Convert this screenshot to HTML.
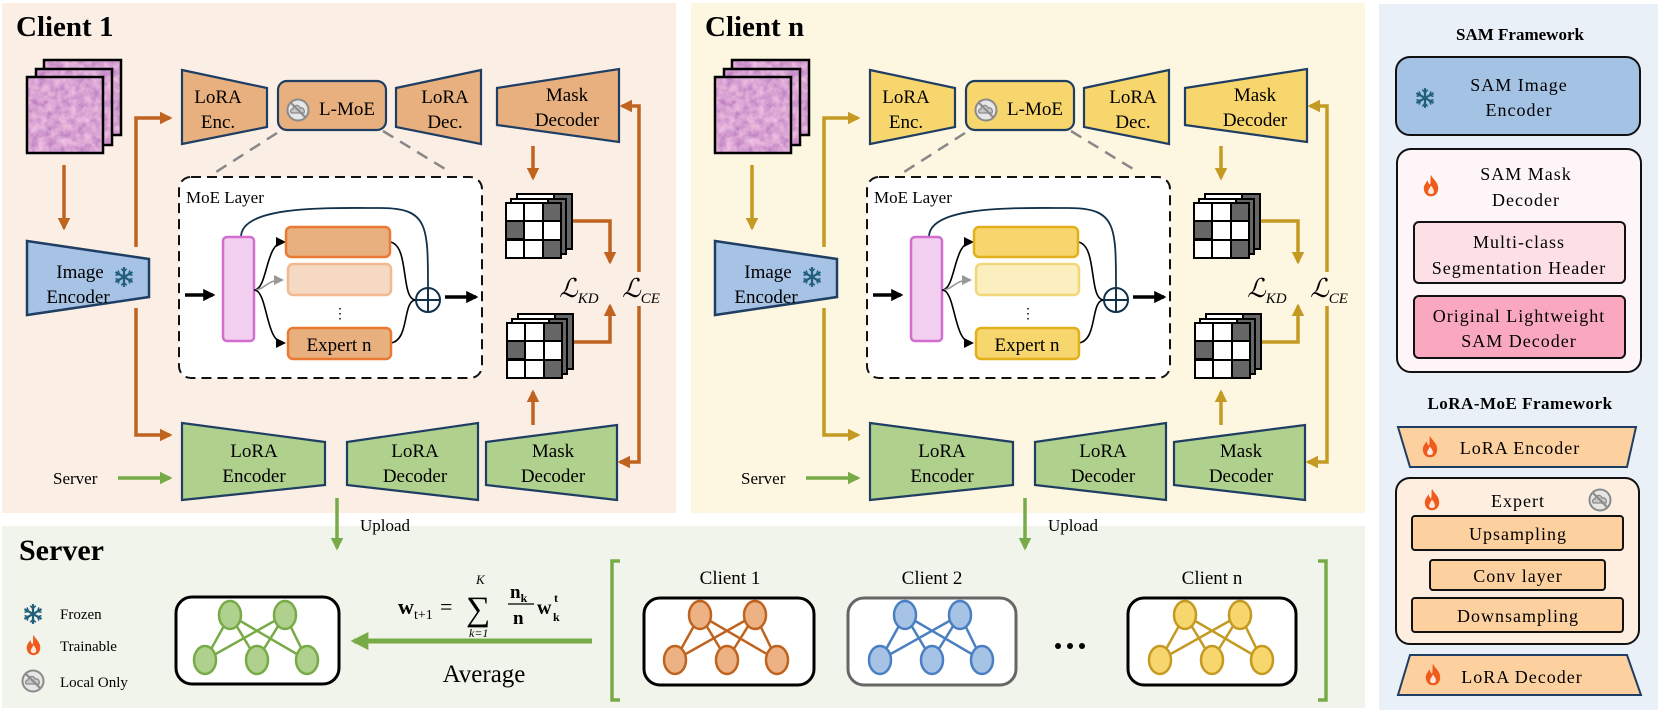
<!DOCTYPE html>
<html><head><meta charset="utf-8"><style>
html,body{margin:0;padding:0;background:#fff}
svg{display:block;font-family:"Liberation Serif",serif}
</style></head><body>
<svg width="1665" height="714" viewBox="0 0 1665 714" xmlns="http://www.w3.org/2000/svg">
<defs>
<marker id="mo" viewBox="0 0 10 10" refX="8" refY="5" markerWidth="3.6" markerHeight="3.6" orient="auto"><path d="M0,0 L10,5 L0,10 z" fill="#c0631f"/></marker>
<marker id="my" viewBox="0 0 10 10" refX="8" refY="5" markerWidth="3.6" markerHeight="3.6" orient="auto"><path d="M0,0 L10,5 L0,10 z" fill="#c49a22"/></marker>
<marker id="mgr" viewBox="0 0 10 10" refX="8" refY="5" markerWidth="3.6" markerHeight="3.6" orient="auto"><path d="M0,0 L10,5 L0,10 z" fill="#78ab47"/></marker>
<marker id="mb" viewBox="0 0 10 10" refX="8" refY="5" markerWidth="10" markerHeight="10" markerUnits="userSpaceOnUse" orient="auto"><path d="M0,0 L10,5 L0,10 z" fill="#000"/></marker>
<marker id="mgy" viewBox="0 0 10 10" refX="8" refY="5" markerWidth="10" markerHeight="10" markerUnits="userSpaceOnUse" orient="auto"><path d="M0,0 L10,5 L0,10 z" fill="#999"/></marker>
<marker id="mbb" viewBox="0 0 10 10" refX="8" refY="5" markerWidth="3.5" markerHeight="3.5" orient="auto"><path d="M0,0 L10,5 L0,10 z" fill="#000"/></marker>
<filter id="tex" x="0" y="0" width="1" height="1"><feTurbulence type="fractalNoise" baseFrequency="0.13" numOctaves="3" seed="4"/><feColorMatrix type="matrix" values="0.55 0 0 0 0.42  0.5 0 0 0 0.12  0.35 0 0 0 0.48  0 0 0 0 1"/></filter>
<symbol id="snow" viewBox="-10 -10 20 20"><g stroke="#1f5f7a" stroke-width="2" fill="none"><line x1="0" y1="-9" x2="0" y2="9"/><line x1="-7.8" y1="-4.5" x2="7.8" y2="4.5"/><line x1="-7.8" y1="4.5" x2="7.8" y2="-4.5"/></g><g stroke="#1f5f7a" stroke-width="1.4" fill="none"><path d="M-2.5,-7.5 L0,-5 L2.5,-7.5 M-2.5,7.5 L0,5 L2.5,7.5 M-7.7,-1.5 L-4.3,-2.5 L-5.3,-6 M7.7,1.5 L4.3,2.5 L5.3,6 M-7.7,1.5 L-4.3,2.5 L-5.3,6 M7.7,-1.5 L4.3,-2.5 L5.3,-6"/></g></symbol>
<symbol id="flame" viewBox="0 0 20 26"><path d="M10,1 C12,6 18,9 18,16 C18,22 14,25 10,25 C5,25 2,21 2,16 C2,12 5,10 6,7 C7,10 8,12 9,12 C10,9 9,5 10,1 Z" fill="#f05a1a"/><path d="M10,13 C12,16 14,18 13,21 C12,23 8,23 7,21 C6,19 8,17 10,13 Z" fill="#fff" opacity=".85"/></symbol>
<symbol id="local" viewBox="-12 -12 24 24"><circle r="10.5" fill="#e6e6e6" stroke="#8a8a8a" stroke-width="2"/><path d="M-6,3 C-8,3 -8,-1 -5,-1 C-5,-5 1,-6 2,-2 C5,-3 7,0 6,3 Z" fill="#c8c8c8" stroke="#8a8a8a" stroke-width="1.3"/><line x1="-7.5" y1="-7.5" x2="7.5" y2="7.5" stroke="#8a8a8a" stroke-width="2"/></symbol>
</defs>

<rect x="2" y="3" width="674" height="510" fill="#fbeee5"/>
<rect x="691" y="3" width="674" height="510" fill="#fdf6e1"/>
<rect x="2" y="526" width="1363" height="182" fill="#f1f4ea"/>
<rect x="1379" y="4" width="279" height="706" fill="#e9f0f8"/>

<text x="16" y="36" font-size="29" font-weight="bold">Client 1</text>
<text x="705" y="36" font-size="29" font-weight="bold">Client n</text>

<!-- CLIENT 1 -->
<g>
<g stroke="#000" stroke-width="2.5">
<rect x="44" y="60" width="77" height="75" fill="#c98cd0" filter="url(#tex)"/><rect x="44" y="60" width="77" height="75" fill="none"/>
<rect x="36" y="69" width="76" height="76" fill="#c98cd0" filter="url(#tex)"/><rect x="36" y="69" width="76" height="76" fill="none"/>
<rect x="27" y="77" width="76" height="76" fill="#c98cd0" filter="url(#tex)"/><rect x="27" y="77" width="76" height="76" fill="none"/>
</g>
<g stroke="#c0631f" stroke-width="3.5" fill="none">
<line x1="64" y1="165" x2="64" y2="228" marker-end="url(#mo)"/>
<polyline points="136,247 136,118 170,118" marker-end="url(#mo)"/>
<polyline points="136,308 136,435 170,435" marker-end="url(#mo)"/>
<line x1="533" y1="146" x2="533" y2="178" marker-end="url(#mo)"/>
<line x1="533" y1="425" x2="533" y2="392" marker-end="url(#mo)"/>
<polyline points="572,221 610,221 610,262" marker-end="url(#mo)"/>
<polyline points="572,342 610,342 610,306" marker-end="url(#mo)"/>
<polyline points="639,272 639,106 622,106" marker-end="url(#mo)"/>
<polyline points="639,306 639,462 620,462" marker-end="url(#mo)"/>
</g>
<polygon points="27,241 149,259 149,297 27,315" fill="#a6c3e6" stroke="#1f3e63" stroke-width="2.5"/>
<text x="80" y="278" font-size="19" text-anchor="middle">Image</text>
<text x="78" y="303" font-size="19" text-anchor="middle">Encoder</text>
<use href="#snow" x="113" y="266" width="22" height="22"/>
<g fill="#e8b07f" stroke="#1f3e63" stroke-width="2.2">
<polygon points="182,70 267,88 267,127 182,144"/>
<polygon points="396,88 481,70 481,144 396,127"/>
<polygon points="497,88 619,69 619,142 497,125"/>
<rect x="278" y="81" width="108" height="49" rx="9"/>
</g>
<g font-size="19" text-anchor="middle">
<text x="218" y="103">LoRA</text><text x="218" y="128">Enc.</text>
<text x="445" y="103">LoRA</text><text x="445" y="128">Dec.</text>
<text x="567" y="101">Mask</text><text x="567" y="126">Decoder</text>
</g>
<use href="#local" x="286" y="98" width="24" height="24"/>
<text x="347" y="115" font-size="19" text-anchor="middle">L-MoE</text>
<g stroke="#888" stroke-width="2.5" stroke-dasharray="12,8"><line x1="277" y1="133" x2="216" y2="172"/><line x1="383" y1="131" x2="450" y2="172"/></g>
<rect x="179" y="177" width="303" height="201" rx="12" fill="#fff" stroke="#111" stroke-width="2" stroke-dasharray="10,6"/>
<text x="186" y="203" font-size="17">MoE Layer</text>
<path d="M241,237 C241,205 330,208 380,208 C428,208 428,225 428,288" fill="none" stroke="#12314a" stroke-width="1.8"/>
<rect x="223" y="237" width="31" height="104" rx="4" fill="#f2cfee" stroke="#d36ed0" stroke-width="2.5"/>
<g fill="none" stroke-width="1.6">
<path d="M254,290 C268,290 265,242 284,242" stroke="#000" marker-end="url(#mb)"/>
<path d="M254,290 C265,290 266,280 282,280" stroke="#999" marker-end="url(#mgy)"/>
<path d="M254,290 C268,290 265,343 284,343" stroke="#000" marker-end="url(#mb)"/>
<path d="M390,242 C410,245 400,300 416,300" stroke="#000"/>
<path d="M391,343 C410,340 402,300 416,300" stroke="#000"/>
</g>
<rect x="286" y="227" width="104" height="30" rx="5" fill="#e8b07f" stroke="#ea7a33" stroke-width="2.5"/>
<rect x="288" y="264" width="103" height="31" rx="5" fill="#f5d9c2" stroke="#f2b890" stroke-width="2.5"/>
<rect x="288" y="328" width="103" height="31" rx="5" fill="#e8b07f" stroke="#ea7a33" stroke-width="2.5"/>
<text x="339" y="351" font-size="19" text-anchor="middle">Expert n</text>
<text x="340" y="318" font-size="14" text-anchor="middle">⋮</text>
<circle cx="428" cy="300" r="12" fill="#fff" stroke="#12314a" stroke-width="2"/>
<path d="M416,300 H440 M428,288 V312" stroke="#12314a" stroke-width="2"/>
<line x1="185" y1="295" x2="213" y2="295" stroke="#000" stroke-width="3.5" marker-end="url(#mbb)"/>
<line x1="445" y1="297" x2="476" y2="297" stroke="#000" stroke-width="3.5" marker-end="url(#mbb)"/>
<g stroke="#000" stroke-width="2">
<g transform="translate(506,203)">
<rect x="11" y="-9" width="55" height="55" fill="#fff"/><rect x="48" y="-9" width="18" height="55" fill="#666"/>
<rect x="5" y="-4" width="55" height="55" fill="#fff"/><rect x="42" y="-4" width="18" height="55" fill="#666"/>
<rect x="0" y="0" width="55" height="55" fill="#fff"/>
<rect x="37" y="0" width="18" height="18" fill="#666"/><rect x="0" y="18" width="18" height="18" fill="#666"/><rect x="37" y="37" width="18" height="18" fill="#666"/>
<path d="M18,0 V55 M37,0 V55 M0,18 H55 M0,37 H55" fill="none"/>
</g>
<g transform="translate(507,323)">
<rect x="11" y="-9" width="55" height="55" fill="#fff"/><rect x="48" y="-9" width="18" height="55" fill="#666"/>
<rect x="5" y="-4" width="55" height="55" fill="#fff"/><rect x="42" y="-4" width="18" height="55" fill="#666"/>
<rect x="0" y="0" width="55" height="55" fill="#fff"/>
<rect x="37" y="0" width="18" height="18" fill="#666"/><rect x="0" y="18" width="18" height="18" fill="#666"/><rect x="37" y="37" width="18" height="18" fill="#666"/>
<path d="M18,0 V55 M37,0 V55 M0,18 H55 M0,37 H55" fill="none"/>
</g>
</g>
<text x="559" y="297" font-size="26" font-style="italic">ℒ<tspan font-size="15" dy="6">KD</tspan></text>
<text x="622" y="297" font-size="26" font-style="italic">ℒ<tspan font-size="15" dy="6">CE</tspan></text>
<g fill="#b0d08e" stroke="#1f3e63" stroke-width="2.2">
<polygon points="182,423 325,442 325,485 182,500"/>
<polygon points="347,442 478,423 478,500 347,485"/>
<polygon points="486,442 617,425 617,500 486,485"/>
</g>
<g font-size="19" text-anchor="middle">
<text x="254" y="457">LoRA</text><text x="254" y="482">Encoder</text>
<text x="415" y="457">LoRA</text><text x="415" y="482">Decoder</text>
<text x="553" y="457">Mask</text><text x="553" y="482">Decoder</text>
</g>
<text x="53" y="484" font-size="17">Server</text>
<line x1="118" y1="478" x2="170" y2="478" stroke="#78ab47" stroke-width="3.5" marker-end="url(#mgr)"/>
<line x1="337" y1="498" x2="337" y2="548" stroke="#78ab47" stroke-width="3.5" marker-end="url(#mgr)"/>
<text x="360" y="531" font-size="17">Upload</text>
</g>

<!-- CLIENT N -->
<g transform="translate(688,0)">
<g stroke="#000" stroke-width="2.5">
<rect x="44" y="60" width="77" height="75" fill="#c98cd0" filter="url(#tex)"/><rect x="44" y="60" width="77" height="75" fill="none"/>
<rect x="36" y="69" width="76" height="76" fill="#c98cd0" filter="url(#tex)"/><rect x="36" y="69" width="76" height="76" fill="none"/>
<rect x="27" y="77" width="76" height="76" fill="#c98cd0" filter="url(#tex)"/><rect x="27" y="77" width="76" height="76" fill="none"/>
</g>
<g stroke="#c49a22" stroke-width="3.5" fill="none">
<line x1="64" y1="165" x2="64" y2="228" marker-end="url(#my)"/>
<polyline points="136,247 136,118 170,118" marker-end="url(#my)"/>
<polyline points="136,308 136,435 170,435" marker-end="url(#my)"/>
<line x1="533" y1="146" x2="533" y2="178" marker-end="url(#my)"/>
<line x1="533" y1="425" x2="533" y2="392" marker-end="url(#my)"/>
<polyline points="572,221 610,221 610,262" marker-end="url(#my)"/>
<polyline points="572,342 610,342 610,306" marker-end="url(#my)"/>
<polyline points="639,272 639,106 622,106" marker-end="url(#my)"/>
<polyline points="639,306 639,462 620,462" marker-end="url(#my)"/>
</g>
<polygon points="27,241 149,259 149,297 27,315" fill="#a6c3e6" stroke="#1f3e63" stroke-width="2.5"/>
<text x="80" y="278" font-size="19" text-anchor="middle">Image</text>
<text x="78" y="303" font-size="19" text-anchor="middle">Encoder</text>
<use href="#snow" x="113" y="266" width="22" height="22"/>
<g fill="#f8d66e" stroke="#1f3e63" stroke-width="2.2">
<polygon points="182,70 267,88 267,127 182,144"/>
<polygon points="396,88 481,70 481,144 396,127"/>
<polygon points="497,88 619,69 619,142 497,125"/>
<rect x="278" y="81" width="108" height="49" rx="9"/>
</g>
<g font-size="19" text-anchor="middle">
<text x="218" y="103">LoRA</text><text x="218" y="128">Enc.</text>
<text x="445" y="103">LoRA</text><text x="445" y="128">Dec.</text>
<text x="567" y="101">Mask</text><text x="567" y="126">Decoder</text>
</g>
<use href="#local" x="286" y="98" width="24" height="24"/>
<text x="347" y="115" font-size="19" text-anchor="middle">L-MoE</text>
<g stroke="#888" stroke-width="2.5" stroke-dasharray="12,8"><line x1="277" y1="133" x2="216" y2="172"/><line x1="383" y1="131" x2="450" y2="172"/></g>
<rect x="179" y="177" width="303" height="201" rx="12" fill="#fff" stroke="#111" stroke-width="2" stroke-dasharray="10,6"/>
<text x="186" y="203" font-size="17">MoE Layer</text>
<path d="M241,237 C241,205 330,208 380,208 C428,208 428,225 428,288" fill="none" stroke="#12314a" stroke-width="1.8"/>
<rect x="223" y="237" width="31" height="104" rx="4" fill="#f2cfee" stroke="#d36ed0" stroke-width="2.5"/>
<g fill="none" stroke-width="1.6">
<path d="M254,290 C268,290 265,242 284,242" stroke="#000" marker-end="url(#mb)"/>
<path d="M254,290 C265,290 266,280 282,280" stroke="#999" marker-end="url(#mgy)"/>
<path d="M254,290 C268,290 265,343 284,343" stroke="#000" marker-end="url(#mb)"/>
<path d="M390,242 C410,245 400,300 416,300" stroke="#000"/>
<path d="M391,343 C410,340 402,300 416,300" stroke="#000"/>
</g>
<rect x="286" y="227" width="104" height="30" rx="5" fill="#f8d66e" stroke="#e2b01a" stroke-width="2.5"/>
<rect x="288" y="264" width="103" height="31" rx="5" fill="#fbefc0" stroke="#f0d77a" stroke-width="2.5"/>
<rect x="288" y="328" width="103" height="31" rx="5" fill="#f8d66e" stroke="#e2b01a" stroke-width="2.5"/>
<text x="339" y="351" font-size="19" text-anchor="middle">Expert n</text>
<text x="340" y="318" font-size="14" text-anchor="middle">⋮</text>
<circle cx="428" cy="300" r="12" fill="#fff" stroke="#12314a" stroke-width="2"/>
<path d="M416,300 H440 M428,288 V312" stroke="#12314a" stroke-width="2"/>
<line x1="185" y1="295" x2="213" y2="295" stroke="#000" stroke-width="3.5" marker-end="url(#mbb)"/>
<line x1="445" y1="297" x2="476" y2="297" stroke="#000" stroke-width="3.5" marker-end="url(#mbb)"/>
<g stroke="#000" stroke-width="2">
<g transform="translate(506,203)">
<rect x="11" y="-9" width="55" height="55" fill="#fff"/><rect x="48" y="-9" width="18" height="55" fill="#666"/>
<rect x="5" y="-4" width="55" height="55" fill="#fff"/><rect x="42" y="-4" width="18" height="55" fill="#666"/>
<rect x="0" y="0" width="55" height="55" fill="#fff"/>
<rect x="37" y="0" width="18" height="18" fill="#666"/><rect x="0" y="18" width="18" height="18" fill="#666"/><rect x="37" y="37" width="18" height="18" fill="#666"/>
<path d="M18,0 V55 M37,0 V55 M0,18 H55 M0,37 H55" fill="none"/>
</g>
<g transform="translate(507,323)">
<rect x="11" y="-9" width="55" height="55" fill="#fff"/><rect x="48" y="-9" width="18" height="55" fill="#666"/>
<rect x="5" y="-4" width="55" height="55" fill="#fff"/><rect x="42" y="-4" width="18" height="55" fill="#666"/>
<rect x="0" y="0" width="55" height="55" fill="#fff"/>
<rect x="37" y="0" width="18" height="18" fill="#666"/><rect x="0" y="18" width="18" height="18" fill="#666"/><rect x="37" y="37" width="18" height="18" fill="#666"/>
<path d="M18,0 V55 M37,0 V55 M0,18 H55 M0,37 H55" fill="none"/>
</g>
</g>
<text x="559" y="297" font-size="26" font-style="italic">ℒ<tspan font-size="15" dy="6">KD</tspan></text>
<text x="622" y="297" font-size="26" font-style="italic">ℒ<tspan font-size="15" dy="6">CE</tspan></text>
<g fill="#b0d08e" stroke="#1f3e63" stroke-width="2.2">
<polygon points="182,423 325,442 325,485 182,500"/>
<polygon points="347,442 478,423 478,500 347,485"/>
<polygon points="486,442 617,425 617,500 486,485"/>
</g>
<g font-size="19" text-anchor="middle">
<text x="254" y="457">LoRA</text><text x="254" y="482">Encoder</text>
<text x="415" y="457">LoRA</text><text x="415" y="482">Decoder</text>
<text x="553" y="457">Mask</text><text x="553" y="482">Decoder</text>
</g>
<text x="53" y="484" font-size="17">Server</text>
<line x1="118" y1="478" x2="170" y2="478" stroke="#78ab47" stroke-width="3.5" marker-end="url(#mgr)"/>
<line x1="337" y1="498" x2="337" y2="548" stroke="#78ab47" stroke-width="3.5" marker-end="url(#mgr)"/>
<text x="360" y="531" font-size="17">Upload</text>
</g>

<!-- SERVER -->
<text x="19" y="560" font-size="30" font-weight="bold">Server</text>
<use href="#snow" x="22" y="603" width="22" height="22"/>
<text x="60" y="619" font-size="15">Frozen</text>
<use href="#flame" x="25" y="633" width="17" height="24"/>
<text x="60" y="651" font-size="15">Trainable</text>
<use href="#local" x="21" y="669" width="24" height="24"/>
<text x="60" y="687" font-size="15">Local Only</text>

<rect x="176" y="597" width="163" height="87" rx="16" fill="#fff" stroke="#000" stroke-width="3"/>
<g stroke="#78ab47" stroke-width="2.5" fill="none"><path d="M230,615 L205,660 M230,615 L257,660 M230,615 L307,660 M285,615 L205,660 M285,615 L257,660 M285,615 L307,660"/></g>
<g fill="#b0d08e" stroke="#78ab47" stroke-width="2.5"><ellipse cx="230" cy="615" rx="11" ry="14"/><ellipse cx="285" cy="615" rx="11" ry="14"/><ellipse cx="205" cy="660" rx="11" ry="14"/><ellipse cx="257" cy="660" rx="11" ry="14"/><ellipse cx="307" cy="660" rx="11" ry="14"/></g>

<line x1="592" y1="641" x2="354" y2="641" stroke="#78ab47" stroke-width="5" marker-end="url(#mgr)"/>
<text x="484" y="682" font-size="25" text-anchor="middle">Average</text>
<g>
<text x="398" y="614" font-size="22" font-weight="bold">w</text>
<text x="414" y="619" font-size="14">t+1</text>
<text x="440" y="614" font-size="22">=</text>
<text x="466" y="620" font-size="34">∑</text>
<text x="476" y="584" font-size="13" font-style="italic">K</text>
<text x="469" y="637" font-size="12" font-style="italic">k=1</text>
<text x="510" y="598" font-size="19" font-weight="bold">n<tspan font-size="12" dy="4">k</tspan></text>
<line x1="508" y1="604" x2="534" y2="604" stroke="#000" stroke-width="1.2"/>
<text x="513" y="624" font-size="19" font-weight="bold">n</text>
<text x="537" y="614" font-size="20" font-weight="bold">w</text>
<text x="553" y="621" font-size="12" font-weight="bold">k</text>
<text x="554" y="602" font-size="12" font-weight="bold">t</text>
</g>

<path d="M620,561 H612 V700 H620" fill="none" stroke="#78ab47" stroke-width="3.5"/>
<path d="M1318,561 H1326 V700 H1318" fill="none" stroke="#78ab47" stroke-width="3.5"/>

<text x="730" y="584" font-size="19" text-anchor="middle">Client 1</text>
<rect x="644" y="598" width="170" height="87" rx="16" fill="#fff" stroke="#000" stroke-width="3"/>
<g stroke="#c0631f" stroke-width="2.5" fill="none"><path d="M700,615 L675,660 M700,615 L727,660 M700,615 L777,660 M755,615 L675,660 M755,615 L727,660 M755,615 L777,660"/></g>
<g fill="#ecb283" stroke="#c0631f" stroke-width="2.5"><ellipse cx="700" cy="615" rx="11" ry="14"/><ellipse cx="755" cy="615" rx="11" ry="14"/><ellipse cx="675" cy="660" rx="11" ry="14"/><ellipse cx="727" cy="660" rx="11" ry="14"/><ellipse cx="777" cy="660" rx="11" ry="14"/></g>

<text x="932" y="584" font-size="19" text-anchor="middle">Client 2</text>
<rect x="848" y="598" width="168" height="87" rx="16" fill="#fff" stroke="#666" stroke-width="3"/>
<g stroke="#4a7fc1" stroke-width="2.5" fill="none"><path d="M905,615 L880,660 M905,615 L932,660 M905,615 L982,660 M960,615 L880,660 M960,615 L932,660 M960,615 L982,660"/></g>
<g fill="#a6c3e6" stroke="#4a7fc1" stroke-width="2.5"><ellipse cx="905" cy="615" rx="11" ry="14"/><ellipse cx="960" cy="615" rx="11" ry="14"/><ellipse cx="880" cy="660" rx="11" ry="14"/><ellipse cx="932" cy="660" rx="11" ry="14"/><ellipse cx="982" cy="660" rx="11" ry="14"/></g>

<g fill="#000"><circle cx="1058" cy="646" r="3"/><circle cx="1070" cy="646" r="3"/><circle cx="1082" cy="646" r="3"/></g>

<text x="1212" y="584" font-size="19" text-anchor="middle">Client n</text>
<rect x="1128" y="598" width="168" height="87" rx="16" fill="#fff" stroke="#000" stroke-width="3"/>
<g stroke="#c49a22" stroke-width="2.5" fill="none"><path d="M1185,615 L1160,660 M1185,615 L1212,660 M1185,615 L1262,660 M1240,615 L1160,660 M1240,615 L1212,660 M1240,615 L1262,660"/></g>
<g fill="#f8d66e" stroke="#c49a22" stroke-width="2.5"><ellipse cx="1185" cy="615" rx="11" ry="14"/><ellipse cx="1240" cy="615" rx="11" ry="14"/><ellipse cx="1160" cy="660" rx="11" ry="14"/><ellipse cx="1212" cy="660" rx="11" ry="14"/><ellipse cx="1262" cy="660" rx="11" ry="14"/></g>

<!-- RIGHT PANEL -->
<text x="1520" y="40" font-size="17" font-weight="bold" text-anchor="middle">SAM Framework</text>
<rect x="1396" y="57" width="244" height="78" rx="14" fill="#a4c2e4" stroke="#111" stroke-width="2"/>
<use href="#snow" x="1414" y="87" width="22" height="22"/>
<text x="1519" y="91" font-size="18" text-anchor="middle" letter-spacing="1">SAM Image</text>
<text x="1519" y="116" font-size="18" text-anchor="middle" letter-spacing="1">Encoder</text>

<rect x="1397" y="149" width="244" height="223" rx="14" fill="#fef5f8" stroke="#111" stroke-width="2"/>
<use href="#flame" x="1422" y="173" width="18" height="25"/>
<text x="1526" y="180" font-size="18" text-anchor="middle" letter-spacing="1">SAM Mask</text>
<text x="1526" y="206" font-size="18" text-anchor="middle" letter-spacing="1">Decoder</text>
<rect x="1414" y="222" width="211" height="61" rx="5" fill="#fde0e6" stroke="#111" stroke-width="2"/>
<text x="1519" y="248" font-size="18" text-anchor="middle" letter-spacing="1">Multi-class</text>
<text x="1519" y="274" font-size="18" text-anchor="middle" letter-spacing="1">Segmentation Header</text>
<rect x="1414" y="296" width="211" height="62" rx="5" fill="#f9a8c0" stroke="#111" stroke-width="2"/>
<text x="1519" y="322" font-size="18" text-anchor="middle" letter-spacing="1">Original Lightweight</text>
<text x="1519" y="347" font-size="18" text-anchor="middle" letter-spacing="1">SAM Decoder</text>

<text x="1520" y="409" font-size="17" font-weight="bold" text-anchor="middle" letter-spacing="0.5">LoRA-MoE Framework</text>
<polygon points="1398,427 1636,427 1627,467 1410,467" fill="#fdd0a0" stroke="#1f3e63" stroke-width="2"/>
<use href="#flame" x="1421" y="434" width="18" height="25"/>
<text x="1520" y="454" font-size="18" text-anchor="middle" letter-spacing="1">LoRA Encoder</text>

<rect x="1396" y="478" width="243" height="166" rx="14" fill="#fdeee0" stroke="#111" stroke-width="2"/>
<use href="#flame" x="1423" y="487" width="18" height="25"/>
<text x="1518" y="507" font-size="18" text-anchor="middle" letter-spacing="1">Expert</text>
<use href="#local" x="1588" y="488" width="24" height="24"/>
<rect x="1412" y="516" width="211" height="34" rx="3" fill="#fdd0a0" stroke="#111" stroke-width="2"/>
<text x="1518" y="540" font-size="18" text-anchor="middle" letter-spacing="1">Upsampling</text>
<rect x="1430" y="560" width="175" height="30" rx="3" fill="#fdd0a0" stroke="#111" stroke-width="2"/>
<text x="1518" y="582" font-size="18" text-anchor="middle" letter-spacing="1">Conv layer</text>
<rect x="1412" y="598" width="211" height="34" rx="3" fill="#fdd0a0" stroke="#111" stroke-width="2"/>
<text x="1518" y="622" font-size="18" text-anchor="middle" letter-spacing="1">Downsampling</text>

<polygon points="1410,655 1627,655 1641,695 1398,695" fill="#fdd0a0" stroke="#1f3e63" stroke-width="2"/>
<use href="#flame" x="1424" y="662" width="18" height="25"/>
<text x="1522" y="683" font-size="18" text-anchor="middle" letter-spacing="1">LoRA Decoder</text>
</svg>
</body></html>
